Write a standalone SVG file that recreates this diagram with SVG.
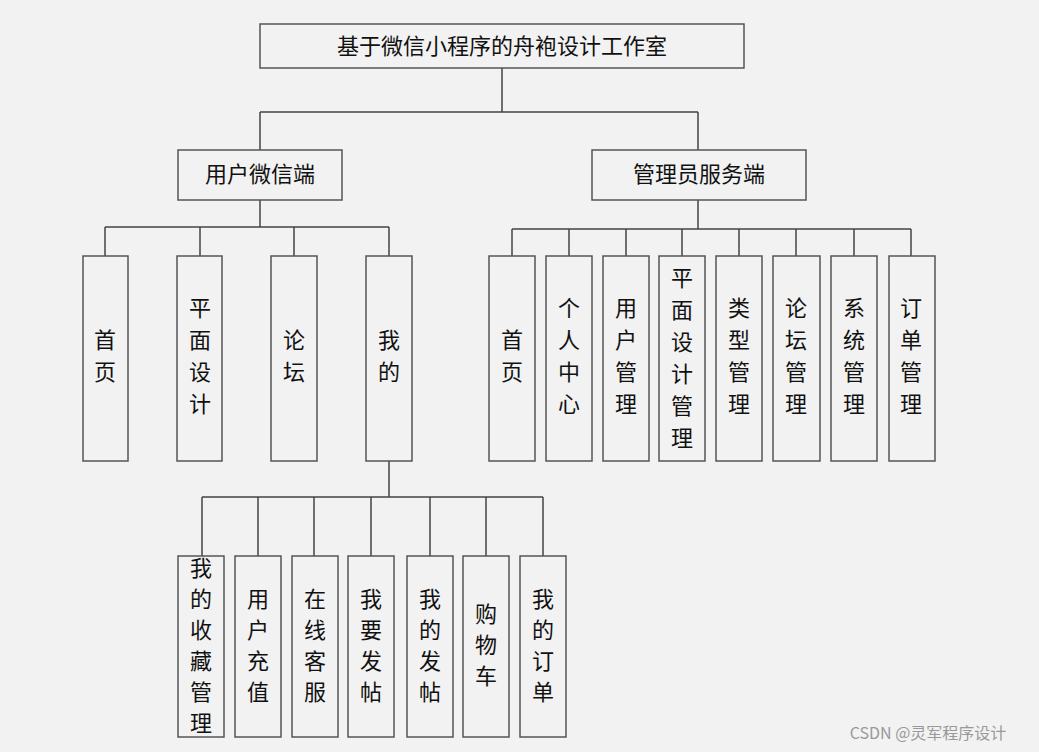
<svg xmlns="http://www.w3.org/2000/svg" width="1039" height="752" viewBox="0 0 1039 752">
<style>
rect.b{fill:#f2f2f2;stroke:#555;stroke-width:1.5}
text{font-family:"Noto Sans CJK SC","Liberation Sans",sans-serif;font-size:22px;fill:#111;text-anchor:middle}
.c path{fill:none;stroke:#444;stroke-width:1.5}
</style>
<rect width="1039" height="752" fill="#f2f2f2"/>
<g class="c">
<path d="M502 68V112M260 112H698M260 112V150M698 112V150"/>
<path d="M260 200V227M105 227H389M105 227V256M200 227V256M294 227V256M389 227V256"/>
<path d="M698 200V229M512 229H911M512 229V256M569 229V256M626 229V256M682 229V256M739 229V256M796 229V256M854 229V256M911 229V256"/>
<path d="M389 461V497M202 497H543M202 497V556M258 497V556M314 497V556M371 497V556M430 497V556M486 497V556M543 497V556"/>
</g>
<g id="root"><rect class="b" x="260" y="24" width="484" height="44"/><text x="502" y="54">基于微信小程序的舟袍设计工作室</text></g>
<g id="user"><rect class="b" x="178" y="150" width="164" height="50"/><text x="260" y="182">用户微信端</text></g>
<g id="admin"><rect class="b" x="592" y="150" width="214" height="50"/><text x="699" y="182">管理员服务端</text></g>
<g id="u1"><rect class="b" x="83" y="256" width="45" height="205"/><text x="105" y="348">首</text><text x="105" y="380">页</text></g>
<g id="u2"><rect class="b" x="177" y="256" width="45" height="205"/><text x="200" y="316">平</text><text x="200" y="348">面</text><text x="200" y="380">设</text><text x="200" y="412">计</text></g>
<g id="u3"><rect class="b" x="271" y="256" width="46" height="205"/><text x="294" y="348">论</text><text x="294" y="380">坛</text></g>
<g id="u4"><rect class="b" x="366" y="256" width="46" height="205"/><text x="389" y="348">我</text><text x="389" y="380">的</text></g>
<g id="a1"><rect class="b" x="489" y="256" width="46" height="205"/><text x="512" y="348">首</text><text x="512" y="380">页</text></g>
<g id="a2"><rect class="b" x="546" y="256" width="46" height="205"/><text x="569" y="316">个</text><text x="569" y="348">人</text><text x="569" y="380">中</text><text x="569" y="412">心</text></g>
<g id="a3"><rect class="b" x="603" y="256" width="46" height="205"/><text x="626" y="316">用</text><text x="626" y="348">户</text><text x="626" y="380">管</text><text x="626" y="412">理</text></g>
<g id="a4"><rect class="b" x="659" y="256" width="46" height="205"/><text x="682" y="286">平</text><text x="682" y="318">面</text><text x="682" y="350">设</text><text x="682" y="382">计</text><text x="682" y="414">管</text><text x="682" y="446">理</text></g>
<g id="a5"><rect class="b" x="716" y="256" width="46" height="205"/><text x="739" y="316">类</text><text x="739" y="348">型</text><text x="739" y="380">管</text><text x="739" y="412">理</text></g>
<g id="a6"><rect class="b" x="773" y="256" width="47" height="205"/><text x="796" y="316">论</text><text x="796" y="348">坛</text><text x="796" y="380">管</text><text x="796" y="412">理</text></g>
<g id="a7"><rect class="b" x="831" y="256" width="46" height="205"/><text x="854" y="316">系</text><text x="854" y="348">统</text><text x="854" y="380">管</text><text x="854" y="412">理</text></g>
<g id="a8"><rect class="b" x="889" y="256" width="46" height="205"/><text x="911" y="316">订</text><text x="911" y="348">单</text><text x="911" y="380">管</text><text x="911" y="412">理</text></g>
<g id="m1"><rect class="b" x="178" y="556" width="46" height="181"/><text x="201" y="576">我</text><text x="201" y="607">的</text><text x="201" y="638">收</text><text x="201" y="669">藏</text><text x="201" y="700">管</text><text x="201" y="731">理</text></g>
<g id="m2"><rect class="b" x="235" y="556" width="46" height="181"/><text x="258" y="607">用</text><text x="258" y="638">户</text><text x="258" y="669">充</text><text x="258" y="700">值</text></g>
<g id="m3"><rect class="b" x="292" y="556" width="46" height="181"/><text x="315" y="607">在</text><text x="315" y="638">线</text><text x="315" y="669">客</text><text x="315" y="700">服</text></g>
<g id="m4"><rect class="b" x="348" y="556" width="46" height="181"/><text x="371" y="607">我</text><text x="371" y="638">要</text><text x="371" y="669">发</text><text x="371" y="700">帖</text></g>
<g id="m5"><rect class="b" x="407" y="556" width="46" height="181"/><text x="430" y="607">我</text><text x="430" y="638">的</text><text x="430" y="669">发</text><text x="430" y="700">帖</text></g>
<g id="m6"><rect class="b" x="463" y="556" width="46" height="181"/><text x="486" y="622">购</text><text x="486" y="653">物</text><text x="486" y="684">车</text></g>
<g id="m7"><rect class="b" x="520" y="556" width="46" height="181"/><text x="543" y="607">我</text><text x="543" y="638">的</text><text x="543" y="669">订</text><text x="543" y="700">单</text></g>
<text x="928" y="739" style="font-size:16px;fill:#999">CSDN @灵军程序设计</text>
</svg>
